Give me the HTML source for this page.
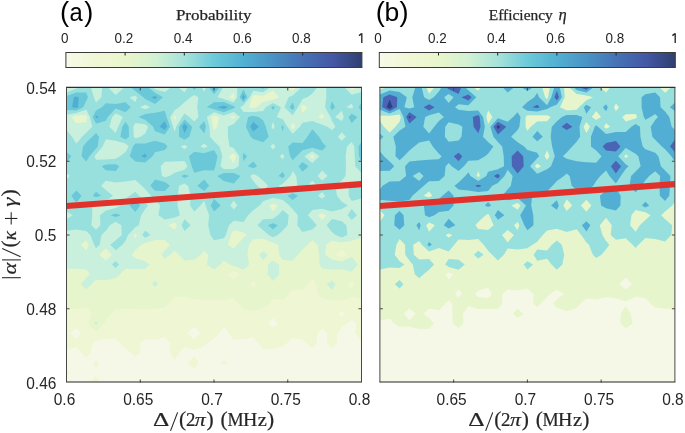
<!DOCTYPE html>
<html><head><meta charset="utf-8"><style>
html,body{margin:0;padding:0;background:#fff;}
body{width:685px;height:433px;overflow:hidden;}
svg{display:block;will-change:transform;}
.tl{font-family:"Liberation Sans",sans-serif;font-size:16.6px;fill:#262626;}
.cb{font-family:"Liberation Sans",sans-serif;font-size:14.5px;fill:#262626;}
.pl{font-family:"Liberation Sans",sans-serif;font-size:27.5px;fill:#000;}
.ti{font-family:"Liberation Serif",serif;font-size:15.5px;fill:#262626;stroke:#262626;stroke-width:0.25px;}
.mr{font-family:"Liberation Serif",serif;font-size:19.5px;fill:#262626;stroke:#262626;stroke-width:0.2px;}
.mi{font-family:"Liberation Serif",serif;font-style:italic;font-size:19.5px;fill:#262626;stroke:#262626;stroke-width:0.2px;}
</style></head><body>
<svg width="685" height="433" viewBox="0 0 685 433">
<defs>
<linearGradient id="cg" x1="0" x2="1" y1="0" y2="0"><stop offset="0.00" stop-color="#f7fae8"/><stop offset="0.10" stop-color="#f0f7d6"/><stop offset="0.20" stop-color="#e9f6cb"/><stop offset="0.30" stop-color="#d2f1d3"/><stop offset="0.40" stop-color="#a6e3da"/><stop offset="0.50" stop-color="#6ccad9"/><stop offset="0.60" stop-color="#52b0d3"/><stop offset="0.70" stop-color="#4a93c6"/><stop offset="0.80" stop-color="#4673b5"/><stop offset="0.90" stop-color="#4458a6"/><stop offset="1.00" stop-color="#303f70"/></linearGradient>
<clipPath id="ca"><rect x="66.50" y="87.50" width="295.00" height="294.6"/></clipPath>
<clipPath id="cbp"><rect x="379.90" y="87.50" width="295.00" height="294.6"/></clipPath>
</defs>
<rect width="685" height="433" fill="#fff"/>
<g clip-path="url(#ca)"><rect x="66.50" y="87.50" width="295.00" height="295.00" fill="#f5f8e6"/>
<path fill="#eef6d3" fill-rule="evenodd" d="M76.3 87.5L86.2 87.5L96.0 87.5L105.8 87.5L115.7 87.5L125.5 87.5L135.3 87.5L145.2 87.5L155.0 87.5L164.8 87.5L174.7 87.5L184.5 87.5L194.3 87.5L204.2 87.5L214.0 87.5L223.8 87.5L233.7 87.5L243.5 87.5L253.3 87.5L263.2 87.5L273.0 87.5L282.8 87.5L292.7 87.5L302.5 87.5L312.3 87.5L322.2 87.5L332.0 87.5L341.8 87.5L351.7 87.5L361.5 87.5L361.5 97.3L361.5 107.2L361.5 117.0L361.5 126.8L361.5 136.7L361.5 146.5L361.5 156.3L361.5 166.2L361.5 176.0L361.5 185.8L361.5 195.7L361.5 205.5L361.5 215.3L361.5 225.2L361.5 235.0L361.5 244.8L361.5 254.7L361.5 264.5L361.5 274.3L361.5 284.2L361.5 294.0L361.5 303.8L361.5 313.7L361.5 323.5L361.5 333.3L361.5 339.7L354.8 333.3L356.6 323.5L351.7 319.9L346.9 323.5L341.8 327.6L337.4 333.3L336.5 343.2L332.0 348.0L327.2 343.2L327.1 333.3L322.2 328.5L317.5 333.3L316.4 343.2L312.3 348.3L306.9 343.2L302.5 339.5L292.7 338.3L286.6 343.2L282.8 346.4L273.0 348.9L263.2 349.1L258.1 343.2L253.3 337.6L243.5 339.1L233.7 339.4L228.8 333.3L223.8 327.0L218.9 333.3L214.0 338.2L207.0 343.2L204.2 346.2L194.3 349.7L184.5 346.8L179.1 353.0L174.7 360.1L170.0 353.0L170.0 343.2L164.8 336.9L155.0 339.5L145.2 339.0L139.7 343.2L140.1 353.0L135.3 356.8L131.5 353.0L125.5 348.5L119.9 343.2L115.7 338.4L105.8 338.7L96.0 340.7L92.6 343.2L90.4 353.0L86.2 357.8L81.4 353.0L76.3 346.9L66.5 349.9L66.5 343.2L66.5 333.3L66.5 323.5L66.5 313.7L66.5 303.8L66.5 294.0L66.5 284.2L66.5 274.3L66.5 264.5L66.5 254.7L66.5 244.8L66.5 235.0L66.5 225.2L66.5 215.3L66.5 205.5L66.5 195.7L66.5 185.8L66.5 176.0L66.5 166.2L66.5 156.3L66.5 146.5L66.5 136.7L66.5 126.8L66.5 117.0L66.5 107.2L66.5 97.3L66.5 87.5ZM338.3 313.7L341.8 317.3L344.4 313.7L341.8 311.2ZM268.4 323.5L273.0 327.7L277.9 323.5L273.0 318.3ZM70.0 333.3L76.3 339.2L81.1 333.3L76.3 327.7ZM187.2 333.3L194.3 339.3L200.6 333.3L194.3 326.6ZM96.0 360.3L98.5 362.8L96.0 367.9L93.0 362.8ZM194.3 355.9L198.7 362.8L194.3 369.0L187.7 362.8ZM223.8 360.3L226.4 362.8L223.8 365.2L221.1 362.8ZM69.5 372.7L66.5 375.8L66.5 372.7L66.5 370.0ZM96.0 375.9L100.0 382.5L96.0 382.5L89.5 382.5Z"/>
<path fill="#e6f5cb" fill-rule="evenodd" d="M76.3 87.5L86.2 87.5L96.0 87.5L105.8 87.5L115.7 87.5L125.5 87.5L135.3 87.5L145.2 87.5L155.0 87.5L164.8 87.5L174.7 87.5L184.5 87.5L194.3 87.5L204.2 87.5L214.0 87.5L223.8 87.5L233.7 87.5L243.5 87.5L253.3 87.5L263.2 87.5L273.0 87.5L282.8 87.5L292.7 87.5L302.5 87.5L312.3 87.5L322.2 87.5L332.0 87.5L341.8 87.5L351.7 87.5L361.5 87.5L361.5 97.3L361.5 107.2L361.5 117.0L361.5 126.8L361.5 136.7L361.5 146.5L361.5 156.3L361.5 166.2L361.5 176.0L361.5 185.8L361.5 195.7L361.5 205.5L361.5 215.3L361.5 225.2L361.5 235.0L361.5 244.8L361.5 254.7L361.5 264.5L361.5 274.3L361.5 284.2L361.5 294.0L361.5 299.1L351.7 296.4L341.8 300.7L332.0 300.1L322.2 298.4L318.0 294.0L316.1 284.2L312.3 278.0L307.8 284.2L302.5 289.7L292.7 289.6L288.6 294.0L282.8 299.9L273.0 298.6L269.3 303.8L263.2 308.0L253.3 310.8L243.5 308.9L238.8 303.8L233.7 297.8L223.8 300.3L214.0 299.7L204.2 299.7L194.3 299.0L184.5 296.5L174.7 297.1L168.6 303.8L164.8 307.6L155.0 308.6L145.2 309.3L135.3 308.9L125.5 308.8L115.7 309.2L111.4 313.7L105.8 320.0L103.9 323.5L96.0 331.6L88.3 323.5L92.0 313.7L86.2 306.7L76.3 309.1L66.5 309.1L66.5 303.8L66.5 294.0L66.5 284.2L66.5 274.3L66.5 264.5L66.5 254.7L66.5 244.8L66.5 235.0L66.5 225.2L66.5 215.3L66.5 205.5L66.5 195.7L66.5 185.8L66.5 176.0L66.5 166.2L66.5 156.3L66.5 146.5L66.5 136.7L66.5 126.8L66.5 117.0L66.5 107.2L66.5 97.3L66.5 87.5ZM335.3 254.7L341.8 257.3L346.3 254.7L341.8 249.3ZM227.2 274.3L233.7 279.4L239.2 274.3L233.7 271.1ZM249.5 284.2L253.3 287.8L257.6 284.2L253.3 281.3ZM346.7 284.2L351.7 289.3L354.4 284.2L351.7 281.6Z"/>
<path fill="#c8f0dc" fill-rule="evenodd" d="M76.3 87.5L86.2 87.5L96.0 87.5L105.8 87.5L114.0 87.5L115.7 89.2L117.6 87.5L125.5 87.5L135.3 87.5L145.2 87.5L155.0 87.5L164.8 87.5L174.7 87.5L184.5 87.5L194.3 87.5L204.2 87.5L214.0 87.5L223.8 87.5L233.7 87.5L243.5 87.5L253.3 87.5L263.2 87.5L273.0 87.5L282.8 87.5L287.0 87.5L292.7 90.9L296.4 87.5L302.5 87.5L312.3 87.5L322.2 87.5L332.0 87.5L341.8 87.5L349.3 87.5L351.7 89.9L356.6 87.5L361.5 87.5L361.5 97.3L361.5 107.2L361.5 117.0L361.5 126.8L361.5 136.7L361.5 146.5L361.5 156.3L361.5 166.2L361.5 176.0L361.5 185.8L361.5 195.7L361.5 205.5L361.5 215.3L361.5 225.2L361.5 235.0L361.5 237.8L351.7 240.8L341.8 242.4L332.0 240.7L326.3 244.8L325.1 254.7L332.0 259.6L341.8 261.4L351.7 257.0L358.0 264.5L351.7 271.4L341.8 269.5L332.0 269.6L322.2 268.6L319.4 264.5L319.2 254.7L317.6 244.8L312.3 240.0L307.5 244.8L302.5 249.8L297.8 254.7L292.7 260.8L282.8 260.1L279.2 254.7L278.2 244.8L273.0 242.7L263.2 238.8L253.3 239.3L249.0 244.8L247.4 254.7L249.1 264.5L243.5 269.7L233.7 265.8L229.9 264.5L223.8 260.7L220.3 264.5L214.0 269.5L206.8 264.5L208.3 254.7L204.2 250.7L200.6 254.7L194.3 259.7L184.5 260.6L178.7 254.7L174.7 250.7L170.1 254.7L164.8 258.8L161.3 254.7L164.8 250.6L170.0 244.8L164.8 240.0L155.0 240.0L145.2 243.0L141.0 244.8L135.3 250.3L131.7 254.7L135.3 258.3L145.2 261.3L149.4 264.5L145.2 269.1L135.3 269.1L125.5 268.7L120.1 274.3L115.7 277.9L105.8 280.2L96.0 279.7L91.5 284.2L86.2 289.5L80.8 284.2L86.2 278.1L89.9 274.3L86.2 269.5L76.3 268.8L66.5 268.8L66.5 264.5L66.5 254.7L66.5 244.8L66.5 235.0L66.5 225.2L66.5 215.3L66.5 205.5L66.5 195.7L66.5 185.8L66.5 176.0L66.5 166.2L66.5 156.3L66.5 146.5L66.5 136.7L66.5 126.8L66.5 117.0L66.5 107.2L66.5 97.3L66.5 89.0L70.2 87.5ZM228.9 97.3L233.7 99.1L234.8 97.3L233.7 93.1ZM252.0 97.3L249.0 107.2L253.3 108.2L256.6 107.2L263.2 101.8L273.0 99.7L279.2 97.3L273.0 90.4L263.2 95.8L253.3 94.9ZM301.0 107.2L302.5 113.2L307.6 107.2L302.5 104.6ZM71.1 117.0L76.3 123.2L86.2 122.1L87.1 117.0L86.2 115.1L76.3 115.5ZM173.6 117.0L174.7 120.8L176.3 117.0L174.7 115.5ZM211.4 117.0L213.0 126.8L214.0 130.4L217.0 126.8L219.2 117.0L214.0 115.3ZM229.7 117.0L233.7 118.8L235.3 117.0L233.7 115.7ZM318.1 117.0L322.2 118.9L324.2 117.0L322.2 112.9ZM290.8 126.8L292.7 129.3L295.3 126.8L292.7 122.5ZM228.9 156.3L233.7 163.4L236.0 156.3L233.7 153.0ZM309.6 156.3L312.3 158.6L314.8 156.3L312.3 154.6ZM269.3 205.5L273.0 211.6L277.8 205.5L273.0 203.4ZM317.9 215.3L322.2 220.3L326.5 215.3L322.2 213.2ZM168.6 225.2L174.7 229.8L177.1 225.2L174.7 222.6ZM133.6 235.0L135.3 238.7L136.9 235.0L135.3 233.2ZM230.9 235.0L227.8 244.8L233.7 248.4L237.1 244.8L243.5 237.4L246.9 235.0L243.5 232.6L233.7 230.2ZM80.7 244.8L86.2 250.4L88.9 244.8L86.2 240.6ZM99.2 254.7L105.8 260.7L111.9 254.7L105.8 248.6ZM263.2 250.9L267.9 254.7L263.2 260.3L259.0 254.7ZM273.0 260.5L278.7 264.5L279.3 274.3L273.0 280.9L267.7 274.3L268.1 264.5ZM155.0 280.4L158.3 284.2L155.0 286.8L151.8 284.2ZM332.0 280.2L335.6 284.2L332.0 290.0L326.8 284.2ZM96.0 320.7L97.5 323.5L96.0 325.0L94.6 323.5Z"/>
<path fill="#98e0dd" fill-rule="evenodd" d="M76.3 88.6L79.3 87.5L86.2 87.5L91.1 87.5L93.8 97.3L96.0 102.5L101.3 97.3L102.2 87.5L105.8 87.5L108.1 87.5L115.7 94.9L124.1 87.5L125.5 87.5L135.3 87.5L145.2 87.5L152.7 87.5L155.0 89.3L164.8 92.0L170.9 87.5L174.7 87.5L178.3 87.5L184.5 92.2L187.5 87.5L194.3 87.5L201.7 87.5L204.2 91.8L205.8 87.5L214.0 87.5L223.0 87.5L217.6 97.3L223.8 98.9L233.7 102.6L237.2 97.3L237.3 87.5L243.5 87.5L253.3 87.5L263.2 87.5L269.7 87.5L263.2 92.2L253.3 90.7L249.7 97.3L243.5 105.2L240.2 107.2L243.5 111.9L253.3 112.0L263.2 111.0L265.7 107.2L273.0 102.9L281.1 107.2L276.8 117.0L282.8 119.2L287.3 126.8L292.7 133.8L300.0 126.8L302.5 122.7L312.3 121.1L322.2 124.7L327.3 126.8L332.0 129.9L335.5 126.8L332.0 121.0L330.6 117.0L325.0 107.2L326.3 97.3L326.2 87.5L332.0 87.5L341.8 87.5L344.6 87.5L351.7 94.7L361.5 92.1L361.5 97.3L361.5 107.2L361.5 117.0L361.5 126.8L361.5 136.7L361.5 146.5L361.5 156.3L361.5 166.2L361.5 172.9L355.2 166.2L354.7 156.3L354.2 146.5L351.7 142.1L347.0 146.5L345.6 156.3L346.0 166.2L345.5 176.0L341.8 180.6L335.3 185.8L337.0 195.7L341.8 201.8L347.9 205.5L341.8 209.0L332.0 211.4L322.2 208.8L312.3 210.0L307.8 215.3L312.3 219.9L316.8 225.2L312.3 229.4L302.5 232.0L297.3 225.2L297.9 215.3L292.7 209.2L289.3 205.5L282.8 200.1L273.0 197.8L263.2 201.2L259.6 205.5L253.3 210.3L248.1 215.3L243.5 221.9L233.7 220.7L229.0 225.2L225.8 235.0L223.8 238.3L214.0 240.2L210.4 235.0L208.2 225.2L209.1 215.3L205.6 205.5L204.2 200.8L200.5 205.5L194.3 211.5L190.1 205.5L190.7 195.7L188.0 185.8L184.5 183.6L179.0 185.8L177.9 195.7L177.5 205.5L179.9 215.3L174.7 217.6L164.8 219.4L158.4 215.3L160.1 205.5L155.0 199.3L151.2 195.7L145.2 189.2L141.8 185.8L135.3 179.9L125.5 181.4L115.7 182.6L105.8 180.7L101.2 185.8L105.8 190.0L113.0 195.7L105.8 201.0L96.0 203.9L92.0 205.5L92.3 215.3L91.3 225.2L96.0 229.8L100.4 225.2L100.0 215.3L105.8 210.4L115.7 208.1L120.6 205.5L125.5 199.1L129.7 195.7L135.3 191.8L139.2 195.7L145.2 202.5L148.0 205.5L145.2 209.1L141.2 215.3L138.7 225.2L135.3 227.2L128.0 235.0L125.5 240.7L122.4 244.8L115.7 250.3L110.2 244.8L115.7 240.2L121.9 235.0L121.3 225.2L115.7 221.7L109.9 225.2L105.8 230.9L101.4 235.0L99.7 244.8L96.0 248.2L94.2 244.8L90.3 235.0L86.2 230.9L76.3 229.5L66.5 230.7L66.5 225.2L66.5 219.3L72.8 215.3L66.5 211.5L66.5 205.5L66.5 195.7L66.5 185.8L66.5 179.7L69.9 176.0L66.5 172.9L66.5 166.2L66.5 156.3L66.5 146.5L66.5 136.7L66.5 130.1L72.0 136.7L76.3 143.7L82.0 136.7L86.2 132.7L92.2 126.8L89.9 117.0L86.2 109.7L76.3 113.0L66.5 114.8L66.5 107.2L66.5 97.3L66.5 92.5ZM129.6 97.3L135.3 102.1L137.2 97.3L135.3 95.8ZM190.6 97.3L184.5 102.2L179.1 107.2L174.7 110.3L170.1 117.0L173.1 126.8L174.7 131.7L176.2 126.8L182.1 117.0L184.5 113.4L189.2 117.0L194.3 121.6L198.5 117.0L197.2 107.2L198.3 97.3L194.3 95.1ZM139.8 107.2L145.2 109.2L150.2 107.2L145.2 104.8ZM346.3 107.2L351.7 108.6L353.3 107.2L351.7 103.8ZM112.2 117.0L109.3 126.8L115.7 133.1L118.1 126.8L122.8 117.0L115.7 113.3ZM206.9 117.0L209.5 126.8L210.0 136.7L214.0 141.3L219.6 146.5L222.4 156.3L220.4 166.2L223.8 169.0L233.7 169.1L238.6 166.2L239.3 156.3L233.7 148.1L229.5 146.5L228.0 136.7L227.8 126.8L233.7 124.0L240.1 117.0L233.7 112.0L223.8 115.4L214.0 112.3ZM335.4 117.0L341.8 121.1L343.8 117.0L341.8 110.7ZM133.3 126.8L133.8 136.7L135.3 138.3L140.5 136.7L145.2 133.5L148.1 126.8L145.2 124.2L135.3 123.1ZM271.5 126.8L273.0 129.7L274.7 126.8L273.0 121.5ZM337.8 136.7L341.8 140.8L345.8 136.7L341.8 132.3ZM102.6 146.5L96.0 154.6L94.5 156.3L96.0 159.8L105.8 159.6L115.7 158.8L120.0 156.3L125.5 152.1L128.7 146.5L125.5 143.5L115.7 140.8L105.8 139.3ZM180.6 146.5L184.5 149.2L187.7 146.5L184.5 145.1ZM200.4 146.5L204.2 148.1L207.7 146.5L204.2 143.5ZM270.4 146.5L273.0 149.6L275.5 146.5L273.0 143.8ZM279.7 156.3L282.8 159.3L284.3 156.3L282.8 153.7ZM304.4 156.3L312.3 163.0L319.4 156.3L312.3 151.2ZM160.7 166.2L161.9 176.0L164.8 177.3L169.6 176.0L174.7 172.8L184.5 169.7L187.5 166.2L184.5 161.0L174.7 161.5L164.8 161.8ZM250.1 176.0L253.3 181.1L257.4 185.8L263.2 190.5L268.0 185.8L263.2 180.8L257.6 176.0L253.3 174.0ZM290.6 176.0L282.8 183.7L278.6 185.8L282.8 189.9L292.7 188.8L297.4 185.8L296.2 176.0L292.7 170.9ZM317.6 176.0L322.2 180.4L327.6 176.0L322.2 170.6ZM307.7 185.8L312.3 191.7L317.3 185.8L312.3 180.8ZM317.9 195.7L322.2 198.8L325.3 195.7L322.2 192.3ZM230.3 205.5L233.7 209.4L237.3 205.5L233.7 200.4ZM292.7 95.5L301.3 87.5L302.5 87.5L312.3 87.5L317.2 87.5L312.3 93.5L307.3 97.3L302.5 99.0L297.8 107.2L292.7 115.3L284.3 107.2L288.6 97.3ZM351.7 183.5L361.5 180.3L361.5 185.8L361.5 195.7L361.5 198.5L351.7 200.9L348.7 195.7L348.6 185.8ZM282.8 209.9L288.7 215.3L287.6 225.2L282.8 230.5L277.8 235.0L273.0 237.3L268.6 235.0L263.2 230.3L257.4 225.2L263.2 219.2L273.0 218.8L278.0 215.3ZM351.7 208.7L356.9 215.3L351.7 220.0L347.5 215.3ZM184.5 219.1L190.6 225.2L184.5 230.9L181.6 225.2ZM332.0 218.9L341.8 221.2L346.4 225.2L347.3 235.0L341.8 237.5L335.6 235.0L332.0 232.0L326.6 225.2ZM145.2 230.6L150.5 235.0L145.2 237.8L142.3 235.0ZM115.7 260.9L118.9 264.5L115.7 267.9L112.0 264.5Z"/>
<path fill="#6bc8d8" fill-rule="evenodd" d="M76.3 92.5L86.2 92.5L88.0 97.3L86.2 101.1L83.3 107.2L76.3 110.5L66.5 110.0L66.5 107.2L66.5 97.3L66.5 96.1ZM135.3 87.5L145.2 87.5L148.2 87.5L155.0 92.7L163.1 97.3L155.0 104.1L145.2 99.1L143.3 97.3L135.3 90.9L130.7 87.5ZM194.3 87.5L196.7 87.5L194.3 89.9L192.1 87.5ZM214.0 87.5L219.5 87.5L214.0 94.2L209.0 87.5ZM243.5 89.5L247.4 97.3L243.5 102.3L239.5 97.3ZM263.2 87.5L264.8 87.5L263.2 88.7L257.3 87.5ZM105.8 103.2L115.7 104.0L125.5 102.3L130.8 107.2L125.5 112.3L115.7 108.5L107.8 117.0L105.8 120.8L96.0 123.7L92.6 117.0L96.0 110.5L101.8 107.2ZM214.0 102.3L223.8 102.1L233.7 106.1L235.2 107.2L233.7 108.3L223.8 112.2L214.0 109.3L206.7 107.2ZM273.0 106.1L275.0 107.2L273.0 110.0L271.2 107.2ZM292.7 102.3L294.5 107.2L292.7 110.2L289.6 107.2ZM332.0 101.2L335.1 107.2L332.0 110.3L330.2 107.2ZM361.5 101.9L361.5 107.2L361.5 112.0L358.8 107.2ZM145.2 114.1L155.0 112.8L164.8 110.7L166.6 117.0L170.1 126.8L164.8 134.4L155.0 131.3L153.1 126.8L145.2 119.7L138.2 117.0ZM253.3 115.8L258.7 117.0L263.2 120.6L265.8 126.8L268.7 136.7L263.2 142.3L253.3 139.1L250.6 136.7L245.9 126.8L248.1 117.0ZM351.7 113.7L357.3 117.0L351.7 123.3L348.5 117.0ZM125.5 121.8L128.8 126.8L129.0 136.7L125.5 139.6L120.3 136.7L122.3 126.8ZM184.5 119.5L192.2 126.8L189.3 136.7L184.5 139.8L178.9 136.7L179.2 126.8ZM204.2 121.3L206.0 126.8L204.2 133.5L199.1 126.8ZM282.8 125.3L283.7 126.8L282.8 131.2L281.2 126.8ZM96.0 133.1L99.0 136.7L97.7 146.5L96.0 148.6L89.5 156.3L86.2 161.6L81.5 156.3L83.0 146.5L86.2 142.6L92.3 136.7ZM312.3 129.3L319.1 136.7L322.2 142.0L326.1 146.5L322.2 150.5L312.3 147.8L302.5 150.3L296.6 156.3L292.7 160.2L290.1 156.3L288.2 146.5L292.7 142.6L302.5 142.9L307.4 136.7ZM135.3 143.6L145.2 143.5L155.0 140.8L164.8 143.4L167.6 146.5L164.8 150.0L155.0 152.3L152.6 156.3L145.2 162.6L135.3 161.4L129.7 156.3L133.0 146.5ZM361.5 141.8L361.5 146.5L361.5 156.3L361.5 162.5L359.0 156.3L358.5 146.5ZM71.3 156.3L66.5 163.0L66.5 156.3L66.5 151.7ZM194.3 151.8L204.2 153.2L214.0 150.1L217.5 156.3L215.4 166.2L214.0 170.5L204.2 170.2L194.3 172.7L191.7 166.2L188.9 156.3ZM243.5 153.0L247.1 156.3L243.5 160.9L242.7 156.3ZM105.8 164.5L115.7 164.2L119.4 166.2L115.7 171.1L105.8 170.2L101.7 166.2ZM253.3 161.5L257.1 166.2L253.3 168.3L247.7 166.2ZM302.5 162.0L308.6 166.2L302.5 171.7L298.5 166.2ZM184.5 174.5L189.3 176.0L184.5 177.9L181.4 176.0ZM223.8 172.9L233.7 173.0L240.6 176.0L233.7 183.5L223.8 181.1L217.2 176.0ZM282.8 171.8L284.7 176.0L282.8 177.9L278.6 176.0ZM155.0 179.5L164.8 182.1L170.0 185.8L164.8 191.0L155.0 190.7L150.3 185.8ZM204.2 179.6L209.2 185.8L204.2 190.9L197.3 185.8ZM76.3 190.5L81.7 195.7L76.3 202.7L71.3 195.7ZM96.0 191.7L101.2 195.7L96.0 197.3L92.8 195.7ZM292.7 193.2L298.0 195.7L292.7 200.1L287.4 195.7ZM135.3 200.3L140.2 205.5L135.3 211.9L129.5 205.5ZM214.0 198.8L220.6 205.5L214.0 211.5L210.7 205.5ZM115.7 213.4L120.9 215.3L115.7 217.1L110.4 215.3ZM273.0 223.2L277.8 225.2L273.0 229.5L267.9 225.2Z"/>
<path fill="#50aed3" fill-rule="evenodd" d="M76.3 96.4L78.8 97.3L78.0 107.2L76.3 107.9L72.1 107.2L73.8 97.3ZM155.0 96.1L157.2 97.3L155.0 99.2L151.6 97.3ZM214.0 87.5L215.9 87.5L214.0 89.8L212.3 87.5ZM243.5 94.1L245.1 97.3L243.5 99.4L241.8 97.3ZM223.8 105.4L228.1 107.2L223.8 108.9L217.3 107.2ZM96.0 115.8L98.9 117.0L96.0 118.3L95.4 117.0ZM164.8 120.9L167.1 126.8L164.8 130.1L159.5 126.8ZM184.5 123.6L187.8 126.8L184.5 133.2L182.2 126.8ZM253.3 121.9L258.9 126.8L253.3 131.6L250.2 126.8ZM145.2 153.5L146.8 156.3L145.2 157.7L141.4 156.3Z"/>
<line x1="66.50" y1="206.0" x2="361.50" y2="184.2" stroke="#e2312a" stroke-width="6.2"/></g>
<g clip-path="url(#cbp)"><rect x="379.90" y="87.50" width="295.00" height="295.00" fill="#f5f8e6"/>
<path fill="#e6f5cb" fill-rule="evenodd" d="M389.7 87.5L399.6 87.5L409.4 87.5L419.2 87.5L429.1 87.5L438.9 87.5L448.7 87.5L458.6 87.5L468.4 87.5L478.2 87.5L488.1 87.5L497.9 87.5L507.7 87.5L517.6 87.5L527.4 87.5L537.2 87.5L547.1 87.5L556.9 87.5L566.7 87.5L576.6 87.5L586.4 87.5L596.2 87.5L606.1 87.5L615.9 87.5L625.7 87.5L635.6 87.5L645.4 87.5L655.2 87.5L665.1 87.5L674.9 87.5L674.9 97.3L674.9 107.2L674.9 117.0L674.9 126.8L674.9 136.7L674.9 146.5L674.9 156.3L674.9 166.2L674.9 176.0L674.9 185.8L674.9 195.7L674.9 205.5L674.9 215.3L674.9 225.2L674.9 235.0L674.9 244.8L674.9 254.7L674.9 264.5L674.9 274.3L674.9 284.2L674.9 294.0L674.9 303.8L674.9 309.0L665.1 308.4L655.2 307.6L650.6 303.8L645.4 298.0L635.6 296.8L625.7 301.4L615.9 298.2L606.1 297.0L596.2 299.4L586.4 298.5L580.3 303.8L576.6 307.9L566.7 311.2L556.9 307.8L553.0 303.8L556.9 299.6L563.9 294.0L556.9 289.7L550.4 294.0L547.1 297.1L540.8 303.8L537.2 307.0L533.1 303.8L533.7 294.0L527.4 288.8L517.6 290.5L507.7 289.2L502.6 294.0L501.9 303.8L497.9 308.7L488.1 309.0L478.2 309.1L468.4 306.3L462.9 313.7L463.4 323.5L458.6 328.1L452.8 323.5L452.4 313.7L452.4 303.8L448.7 300.2L445.1 303.8L438.9 310.2L429.1 308.4L423.5 313.7L429.1 318.1L433.9 323.5L429.1 328.7L419.2 329.1L409.4 326.4L399.6 326.7L394.3 323.5L389.7 318.7L379.9 320.2L379.9 313.7L379.9 303.8L379.9 294.0L379.9 284.2L379.9 274.3L379.9 264.5L379.9 254.7L379.9 244.8L379.9 235.0L379.9 225.2L379.9 215.3L379.9 205.5L379.9 195.7L379.9 185.8L379.9 176.0L379.9 166.2L379.9 156.3L379.9 146.5L379.9 136.7L379.9 126.8L379.9 117.0L379.9 107.2L379.9 97.3L379.9 87.5ZM445.7 274.3L448.7 279.7L453.1 274.3L448.7 272.5ZM619.4 284.2L625.7 289.3L631.9 284.2L625.7 277.2ZM455.0 294.0L458.6 297.6L461.9 294.0L458.6 289.3ZM475.1 294.0L478.2 297.0L488.1 298.2L491.9 294.0L488.1 287.7L478.2 290.6ZM403.9 313.7L409.4 320.3L415.7 313.7L409.4 308.5ZM517.6 308.8L523.5 313.7L517.6 317.9L513.1 313.7ZM625.7 306.3L630.7 313.7L632.8 323.5L625.7 328.2L620.4 323.5L620.8 313.7Z"/>
<path fill="#97e0de" fill-rule="evenodd" d="M389.7 87.5L399.6 87.5L409.4 87.5L419.2 87.5L426.4 87.5L429.1 93.8L434.3 87.5L438.9 87.5L448.7 87.5L458.6 87.5L468.4 87.5L473.7 87.5L478.2 90.7L480.8 87.5L488.1 87.5L497.9 87.5L507.7 87.5L517.6 87.5L527.4 87.5L537.2 87.5L542.3 87.5L545.1 97.3L547.1 99.3L548.1 97.3L549.8 87.5L556.9 87.5L564.1 87.5L564.7 97.3L560.0 107.2L566.7 110.4L576.6 109.8L579.0 107.2L586.4 100.2L593.1 97.3L586.4 95.5L576.6 94.1L569.4 87.5L576.6 87.5L586.4 87.5L596.2 87.5L600.5 87.5L606.1 92.4L609.9 87.5L615.9 87.5L625.7 87.5L635.6 87.5L645.4 87.5L655.2 87.5L659.7 87.5L665.1 92.7L671.1 87.5L674.9 87.5L674.9 97.3L674.9 107.2L674.9 117.0L674.9 126.8L674.9 136.7L674.9 146.5L674.9 156.3L674.9 166.2L674.9 176.0L674.9 185.8L674.9 195.7L674.9 201.9L672.3 205.5L665.1 211.5L661.1 215.3L665.1 219.3L672.2 225.2L671.3 235.0L665.1 241.4L655.2 238.9L645.4 237.9L638.4 244.8L635.6 248.0L632.6 244.8L625.7 238.3L615.9 239.7L610.7 235.0L611.8 225.2L606.1 217.8L599.8 225.2L602.4 235.0L606.1 241.1L609.4 244.8L606.1 249.2L601.5 254.7L596.2 258.0L592.9 254.7L588.9 244.8L586.4 242.6L581.3 235.0L576.6 229.3L566.7 232.1L556.9 228.8L547.1 230.4L542.8 235.0L537.2 241.8L532.5 244.8L527.4 248.3L517.6 249.4L507.7 248.5L503.9 254.7L497.9 260.4L492.1 254.7L488.1 250.7L483.7 244.8L478.2 238.9L468.4 239.9L458.6 239.5L454.2 244.8L448.7 251.5L438.9 247.9L429.1 251.5L421.8 244.8L419.2 241.1L413.2 244.8L413.8 254.7L419.2 259.4L429.1 259.0L434.1 264.5L429.1 269.8L423.6 274.3L419.2 278.3L414.8 274.3L412.8 264.5L409.4 260.5L405.3 254.7L405.0 244.8L399.6 239.1L396.4 244.8L394.7 254.7L399.6 261.3L404.4 264.5L399.6 268.0L389.7 267.6L379.9 269.4L379.9 264.5L379.9 254.7L379.9 244.8L379.9 235.0L379.9 225.2L379.9 221.6L384.5 215.3L379.9 210.0L379.9 205.5L379.9 195.7L379.9 185.8L379.9 176.0L379.9 166.2L379.9 156.3L379.9 146.5L379.9 136.7L379.9 126.8L379.9 120.7L383.8 126.8L389.7 132.5L395.5 126.8L399.6 121.8L400.9 117.0L399.6 114.4L389.7 115.7L379.9 115.4L379.9 107.2L379.9 97.3L379.9 89.5L386.0 87.5ZM613.9 107.2L615.9 111.3L619.1 107.2L615.9 103.5ZM486.3 117.0L488.1 124.0L492.5 117.0L488.1 110.6ZM525.5 117.0L525.6 126.8L527.4 131.0L530.7 126.8L537.2 121.5L547.1 121.2L550.8 117.0L547.1 115.2L537.2 115.2L527.4 115.3ZM591.8 117.0L596.2 120.1L601.1 117.0L596.2 111.1ZM622.2 117.0L625.7 121.5L635.6 118.4L637.2 117.0L635.6 113.9L625.7 114.3ZM583.5 126.8L586.4 133.1L590.0 126.8L586.4 121.9ZM603.9 126.8L606.1 128.7L610.3 126.8L606.1 123.2ZM544.6 156.3L547.1 160.1L549.5 156.3L547.1 150.3ZM624.1 156.3L625.7 158.0L628.5 156.3L625.7 154.6ZM534.9 166.2L537.2 168.6L541.1 166.2L537.2 163.6ZM476.6 176.0L478.2 177.1L480.0 176.0L478.2 171.1ZM423.5 195.7L429.1 197.5L432.3 195.7L429.1 191.5ZM511.5 205.5L517.6 209.7L520.6 205.5L517.6 202.8ZM563.4 205.5L566.7 211.0L572.2 205.5L566.7 199.3ZM580.9 205.5L586.4 211.8L591.3 205.5L586.4 199.8ZM485.6 215.3L478.2 222.1L475.4 225.2L478.2 229.1L488.1 230.1L493.6 225.2L489.3 215.3L488.1 213.8ZM631.5 215.3L630.1 225.2L635.6 231.7L639.9 225.2L645.4 220.1L650.6 215.3L645.4 212.2L635.6 210.0ZM426.2 225.2L429.1 231.7L434.9 225.2L429.1 222.5ZM514.1 225.2L517.6 230.0L519.4 225.2L517.6 222.0ZM445.6 235.0L448.7 237.8L452.4 235.0L448.7 233.5ZM502.1 235.0L507.7 242.4L513.9 235.0L507.7 230.1ZM556.9 240.5L561.8 244.8L564.2 254.7L562.4 264.5L556.9 269.8L551.5 264.5L547.1 258.8L537.2 260.8L533.6 254.7L537.2 249.4L547.1 250.5L551.9 244.8ZM478.2 250.7L483.6 254.7L478.2 258.6L473.9 254.7ZM448.7 259.1L458.6 259.8L464.7 264.5L458.6 269.7L448.7 266.9L445.1 264.5ZM527.4 261.3L533.1 264.5L527.4 269.6L523.6 264.5ZM399.6 280.1L403.4 284.2L399.6 288.4L394.8 284.2Z"/>
<path fill="#52aed2" fill-rule="evenodd" d="M389.7 90.4L399.6 92.0L406.8 97.3L404.4 107.2L409.4 108.6L414.2 107.2L412.3 97.3L415.3 87.5L419.2 87.5L421.7 87.5L424.1 97.3L429.1 100.1L433.7 97.3L438.9 91.4L441.5 87.5L448.7 87.5L458.6 87.5L465.4 87.5L468.4 90.3L476.3 97.3L468.4 105.3L458.6 104.3L455.0 107.2L458.6 109.8L468.4 111.0L478.2 110.4L483.0 117.0L484.8 126.8L483.0 136.7L488.1 142.1L493.4 146.5L488.1 153.7L485.0 156.3L478.2 160.3L468.4 160.8L463.9 166.2L458.6 170.9L451.7 166.2L448.7 163.1L445.6 166.2L444.6 176.0L438.9 181.0L429.1 181.3L423.8 185.8L419.2 189.7L412.4 195.7L409.4 200.0L399.6 201.6L389.7 200.7L379.9 199.8L379.9 195.7L379.9 189.6L382.6 185.8L389.7 181.4L399.6 181.2L406.1 176.0L405.0 166.2L409.4 161.4L419.2 160.6L429.1 159.8L438.9 159.3L441.7 156.3L438.9 153.8L432.8 146.5L429.1 140.4L419.2 142.5L414.2 146.5L409.4 150.5L403.9 156.3L399.6 160.3L395.5 156.3L395.8 146.5L393.3 136.7L399.6 130.6L405.4 126.8L403.5 117.0L399.6 109.1L389.7 113.4L379.9 109.8L379.9 107.2L379.9 97.3L379.9 94.4ZM444.1 97.3L448.7 102.9L453.5 97.3L448.7 94.1ZM425.2 117.0L423.3 126.8L429.1 133.6L434.2 126.8L438.9 120.9L443.9 117.0L438.9 112.5L429.1 115.3ZM445.2 126.8L444.9 136.7L448.7 141.8L458.6 140.5L461.5 136.7L462.4 126.8L458.6 124.4L448.7 122.2ZM412.7 176.0L419.2 181.0L423.6 176.0L419.2 172.0ZM507.7 87.5L513.8 87.5L507.7 92.4L502.9 87.5ZM527.4 87.5L532.7 87.5L527.4 90.9L521.9 87.5ZM537.2 92.7L539.0 97.3L547.1 105.3L551.3 97.3L554.2 87.5L556.9 87.5L559.7 87.5L561.9 97.3L556.9 104.5L550.2 107.2L547.1 109.1L537.2 111.6L527.4 110.7L522.0 107.2L527.4 102.1L534.4 97.3ZM576.6 87.5L586.4 87.5L593.3 87.5L586.4 92.6L576.6 89.9L574.0 87.5ZM645.4 94.3L655.2 92.6L660.0 97.3L660.6 107.2L665.1 111.4L669.3 117.0L671.7 126.8L674.9 129.7L674.9 136.7L674.9 146.5L674.9 156.3L674.9 161.7L671.4 156.3L665.1 149.2L661.9 146.5L655.2 139.7L652.3 136.7L650.7 126.8L655.2 119.9L658.0 117.0L655.2 114.1L650.5 117.0L645.4 119.7L643.8 117.0L641.6 107.2L641.6 97.3ZM586.4 104.7L591.1 107.2L586.4 113.8L583.8 107.2ZM606.1 104.3L607.8 107.2L606.1 111.3L602.9 107.2ZM674.9 102.7L674.9 107.2L674.9 110.9L669.8 107.2ZM517.6 112.2L520.5 117.0L519.4 126.8L517.6 129.9L511.1 136.7L517.6 142.2L524.2 146.5L527.4 150.0L537.2 152.7L539.2 156.3L537.2 158.3L530.0 166.2L537.2 173.7L547.1 169.3L551.0 166.2L554.8 156.3L552.1 146.5L550.7 136.7L551.8 126.8L556.9 121.3L562.0 117.0L566.7 114.9L576.6 115.0L582.4 117.0L579.5 126.8L580.1 136.7L576.6 141.8L572.2 146.5L566.7 152.4L562.8 156.3L566.7 158.8L576.6 161.3L586.4 162.3L596.2 162.7L601.6 156.3L596.2 150.5L591.0 146.5L590.9 136.7L594.8 126.8L596.2 125.3L597.9 126.8L606.1 133.9L615.9 131.9L625.7 131.9L631.4 126.8L635.6 124.0L640.0 126.8L640.4 136.7L642.7 146.5L645.4 149.2L655.2 152.7L658.4 156.3L660.9 166.2L665.1 170.5L670.4 176.0L670.1 185.8L669.2 195.7L665.1 200.9L659.9 195.7L659.4 185.8L660.2 176.0L655.2 171.2L649.1 176.0L645.4 180.2L641.6 185.8L635.6 192.3L629.5 185.8L631.1 176.0L635.6 171.5L640.7 166.2L638.3 156.3L635.6 153.7L625.7 148.1L618.2 156.3L625.7 164.2L628.6 166.2L625.7 169.1L620.8 176.0L615.9 183.5L609.4 176.0L606.1 170.4L600.2 176.0L596.2 181.1L593.3 185.8L586.4 191.3L576.6 189.7L571.7 185.8L569.6 176.0L566.7 173.6L563.9 176.0L556.9 181.1L552.5 185.8L547.1 191.6L537.2 191.8L532.1 195.7L531.2 205.5L533.3 215.3L533.5 225.2L527.4 230.2L524.3 225.2L520.2 215.3L526.0 205.5L517.6 197.9L507.7 200.2L502.3 195.7L507.7 189.3L510.8 185.8L512.7 176.0L507.7 169.8L504.5 176.0L497.9 183.0L492.3 185.8L488.1 191.1L478.2 192.1L468.4 190.4L458.6 189.6L454.4 185.8L458.6 182.6L465.3 176.0L468.4 172.3L470.5 176.0L478.2 180.9L486.3 176.0L488.1 171.7L497.9 169.3L504.0 166.2L503.7 156.3L502.2 146.5L497.9 142.0L493.4 136.7L490.4 126.8L497.9 118.2L507.7 121.7L513.1 117.0ZM383.4 136.7L379.9 140.2L379.9 136.7L379.9 133.4ZM537.2 131.1L542.8 136.7L537.2 141.3L532.5 136.7ZM383.9 156.3L389.7 161.5L394.3 166.2L389.7 170.8L379.9 171.1L379.9 166.2L379.9 156.3L379.9 151.2ZM448.7 190.4L453.6 195.7L453.5 205.5L448.7 210.7L438.9 211.9L434.4 215.3L429.1 217.3L425.0 215.3L423.9 205.5L429.1 203.1L438.9 199.1L442.4 195.7ZM606.1 190.6L615.9 188.3L620.7 195.7L620.4 205.5L615.9 210.6L606.1 208.2L601.1 205.5L599.9 195.7ZM488.1 202.0L491.2 205.5L488.1 207.1L484.8 205.5ZM556.9 200.2L558.8 205.5L556.9 209.7L551.0 205.5ZM645.4 201.7L649.2 205.5L645.4 207.4L641.9 205.5ZM399.6 211.1L403.5 215.3L404.3 225.2L399.6 229.8L394.3 225.2L394.9 215.3ZM497.9 210.1L504.4 215.3L497.9 219.8L494.8 215.3ZM419.2 221.9L420.7 225.2L419.2 230.3L416.4 225.2ZM448.7 218.8L455.4 225.2L448.7 228.5L443.7 225.2ZM586.4 221.2L590.4 225.2L586.4 231.4L581.9 225.2ZM429.1 241.9L431.9 244.8L429.1 246.4L427.4 244.8Z"/>
<path fill="#4a65b5" fill-rule="evenodd" d="M389.7 94.4L397.3 97.3L396.9 107.2L389.7 111.1L382.2 107.2L383.3 97.3ZM448.7 87.5L458.6 87.5L461.1 87.5L458.6 94.1L448.7 89.3L446.7 87.5ZM468.4 94.4L471.7 97.3L468.4 100.6L461.4 97.3ZM556.9 90.8L559.0 97.3L556.9 100.4L554.5 97.3ZM586.4 87.5L589.3 87.5L586.4 89.7L580.3 87.5ZM429.1 104.2L434.6 107.2L429.1 110.6L423.7 107.2ZM537.2 104.8L539.7 107.2L537.2 108.0L532.5 107.2ZM409.4 112.3L416.6 117.0L409.4 123.4L406.1 117.0ZM478.2 114.9L479.7 117.0L480.5 126.8L478.2 133.2L473.6 126.8L472.8 117.0ZM497.9 121.8L506.3 126.8L497.9 134.6L493.5 126.8ZM566.7 122.7L572.4 126.8L566.7 130.1L561.6 126.8ZM606.1 142.9L615.9 140.9L620.5 146.5L615.9 151.6L606.1 150.6L602.6 146.5ZM674.9 139.5L674.9 146.5L674.9 152.0L670.0 146.5ZM458.6 152.8L462.3 156.3L458.6 161.3L453.8 156.3ZM517.6 150.5L523.2 156.3L523.7 166.2L517.6 173.6L511.9 166.2L511.7 156.3ZM615.9 160.8L621.0 166.2L615.9 173.6L610.9 166.2ZM497.9 173.7L500.1 176.0L497.9 178.4L493.8 176.0ZM478.2 184.7L481.8 185.8L478.2 187.3L475.1 185.8Z"/>
<path fill="#2e3f80" fill-rule="evenodd" d="M389.7 99.8L392.7 107.2L389.7 108.8L386.6 107.2ZM409.4 116.0L411.0 117.0L409.4 118.4L408.7 117.0ZM497.9 125.3L500.4 126.8L497.9 129.2L496.6 126.8Z"/>
<line x1="379.90" y1="206.0" x2="674.90" y2="184.2" stroke="#e2312a" stroke-width="6.2"/></g>
<g stroke="#4a4a4a" stroke-width="1" fill="none"><line x1="140.25" y1="382.50" x2="140.25" y2="379.50"/><line x1="140.25" y1="87.50" x2="140.25" y2="90.50"/><line x1="66.50" y1="161.25" x2="69.50" y2="161.25"/><line x1="361.50" y1="161.25" x2="358.50" y2="161.25"/><line x1="214.00" y1="382.50" x2="214.00" y2="379.50"/><line x1="214.00" y1="87.50" x2="214.00" y2="90.50"/><line x1="66.50" y1="235.00" x2="69.50" y2="235.00"/><line x1="361.50" y1="235.00" x2="358.50" y2="235.00"/><line x1="287.75" y1="382.50" x2="287.75" y2="379.50"/><line x1="287.75" y1="87.50" x2="287.75" y2="90.50"/><line x1="66.50" y1="308.75" x2="69.50" y2="308.75"/><line x1="361.50" y1="308.75" x2="358.50" y2="308.75"/></g><line x1="66.00" y1="87.3" x2="362.00" y2="87.3" stroke="#2e2e2e" stroke-width="1.3"/><line x1="66.00" y1="382.00" x2="362.00" y2="382.00" stroke="#262626" stroke-width="1.2"/><line x1="66.50" y1="87.3" x2="66.50" y2="382.00" stroke="#484848" stroke-width="1"/><line x1="361.50" y1="87.3" x2="361.50" y2="382.00" stroke="#484848" stroke-width="1"/>
<g stroke="#4a4a4a" stroke-width="1" fill="none"><line x1="453.65" y1="382.50" x2="453.65" y2="379.50"/><line x1="453.65" y1="87.50" x2="453.65" y2="90.50"/><line x1="379.90" y1="161.25" x2="382.90" y2="161.25"/><line x1="674.90" y1="161.25" x2="671.90" y2="161.25"/><line x1="527.40" y1="382.50" x2="527.40" y2="379.50"/><line x1="527.40" y1="87.50" x2="527.40" y2="90.50"/><line x1="379.90" y1="235.00" x2="382.90" y2="235.00"/><line x1="674.90" y1="235.00" x2="671.90" y2="235.00"/><line x1="601.15" y1="382.50" x2="601.15" y2="379.50"/><line x1="601.15" y1="87.50" x2="601.15" y2="90.50"/><line x1="379.90" y1="308.75" x2="382.90" y2="308.75"/><line x1="674.90" y1="308.75" x2="671.90" y2="308.75"/></g><line x1="379.40" y1="87.3" x2="675.40" y2="87.3" stroke="#2e2e2e" stroke-width="1.3"/><line x1="379.40" y1="382.00" x2="675.40" y2="382.00" stroke="#262626" stroke-width="1.2"/><line x1="379.90" y1="87.3" x2="379.90" y2="382.00" stroke="#484848" stroke-width="1"/><line x1="674.90" y1="87.3" x2="674.90" y2="382.00" stroke="#484848" stroke-width="1"/>
<rect x="65.90" y="52.50" width="296.00" height="15.00" fill="url(#cg)" stroke="#3a3a3a" stroke-width="1"/><line x1="125.10" y1="52.50" x2="125.10" y2="55.50" stroke="#262626" stroke-width="1"/><line x1="184.30" y1="52.50" x2="184.30" y2="55.50" stroke="#262626" stroke-width="1"/><line x1="243.50" y1="52.50" x2="243.50" y2="55.50" stroke="#262626" stroke-width="1"/><line x1="302.70" y1="52.50" x2="302.70" y2="55.50" stroke="#262626" stroke-width="1"/><text transform="translate(64.70,43.3) scale(0.93,1)" text-anchor="middle" class="cb">0</text><text transform="translate(123.90,43.3) scale(0.93,1)" text-anchor="middle" class="cb">0.2</text><text transform="translate(183.10,43.3) scale(0.93,1)" text-anchor="middle" class="cb">0.4</text><text transform="translate(242.30,43.3) scale(0.93,1)" text-anchor="middle" class="cb">0.6</text><text transform="translate(301.50,43.3) scale(0.93,1)" text-anchor="middle" class="cb">0.8</text><path d="M361.80 33.3 L361.80 43.0 M361.60 33.6 L359.00 35.6" stroke="#262626" stroke-width="1.35" fill="none"/>
<rect x="379.30" y="52.50" width="296.00" height="15.00" fill="url(#cg)" stroke="#3a3a3a" stroke-width="1"/><line x1="438.50" y1="52.50" x2="438.50" y2="55.50" stroke="#262626" stroke-width="1"/><line x1="497.70" y1="52.50" x2="497.70" y2="55.50" stroke="#262626" stroke-width="1"/><line x1="556.90" y1="52.50" x2="556.90" y2="55.50" stroke="#262626" stroke-width="1"/><line x1="616.10" y1="52.50" x2="616.10" y2="55.50" stroke="#262626" stroke-width="1"/><text transform="translate(378.10,43.3) scale(0.93,1)" text-anchor="middle" class="cb">0</text><text transform="translate(437.30,43.3) scale(0.93,1)" text-anchor="middle" class="cb">0.2</text><text transform="translate(496.50,43.3) scale(0.93,1)" text-anchor="middle" class="cb">0.4</text><text transform="translate(555.70,43.3) scale(0.93,1)" text-anchor="middle" class="cb">0.6</text><text transform="translate(614.90,43.3) scale(0.93,1)" text-anchor="middle" class="cb">0.8</text><path d="M675.20 33.3 L675.20 43.0 M675.00 33.6 L672.40 35.6" stroke="#262626" stroke-width="1.35" fill="none"/>
<text transform="translate(59.99,20.60) scale(1.000,1)" class="pl" style="font-size:27.3px">(</text><text transform="translate(69.59,20.60) scale(0.930,1)" class="pl" style="font-size:25.5px">a</text><text transform="translate(84.15,20.60) scale(1.000,1)" class="pl" style="font-size:27.3px">)</text><text transform="translate(375.64,20.60) scale(1.000,1)" class="pl" style="font-size:27.3px">(</text><text transform="translate(384.56,20.60) scale(1.040,1)" class="pl" style="font-size:25.5px">b</text><text transform="translate(399.40,20.60) scale(1.000,1)" class="pl" style="font-size:27.3px">)</text>
<text x="175.9" y="20.4" class="ti" textLength="75.6" lengthAdjust="spacingAndGlyphs">Probability</text>
<text x="488.8" y="20.4" class="ti" textLength="64" lengthAdjust="spacingAndGlyphs">Efficiency</text>
<text x="558.4" y="20.4" class="ti" style="font-style:italic;font-size:16.5px">&#951;</text>
<text transform="translate(56.4,93.70) scale(0.934,1)" text-anchor="end" class="tl">0.54</text><text transform="translate(56.4,167.45) scale(0.934,1)" text-anchor="end" class="tl">0.52</text><text transform="translate(56.4,241.20) scale(0.934,1)" text-anchor="end" class="tl">0.5</text><text transform="translate(56.4,314.95) scale(0.934,1)" text-anchor="end" class="tl">0.48</text><text transform="translate(56.4,388.70) scale(0.934,1)" text-anchor="end" class="tl">0.46</text>
<text transform="translate(64.50,405.3) scale(0.934,1)" text-anchor="middle" class="tl">0.6</text><text transform="translate(138.25,405.3) scale(0.934,1)" text-anchor="middle" class="tl">0.65</text><text transform="translate(212.00,405.3) scale(0.934,1)" text-anchor="middle" class="tl">0.7</text><text transform="translate(285.75,405.3) scale(0.934,1)" text-anchor="middle" class="tl">0.75</text><text transform="translate(359.50,405.3) scale(0.934,1)" text-anchor="middle" class="tl">0.8</text><text transform="translate(451.65,405.3) scale(0.934,1)" text-anchor="middle" class="tl">0.65</text><text transform="translate(525.40,405.3) scale(0.934,1)" text-anchor="middle" class="tl">0.7</text><text transform="translate(599.15,405.3) scale(0.934,1)" text-anchor="middle" class="tl">0.75</text><text transform="translate(672.90,405.3) scale(0.934,1)" text-anchor="middle" class="tl">0.8</text>
<text transform="translate(153.12,426.30) scale(1.300,1)" class="mr" style="font-size:19.5px">&#916;</text><line x1="177.60" y1="412.4" x2="170.50" y2="430.9" stroke="#262626" stroke-width="1.1"/><text transform="translate(179.09,426.30) scale(1.050,1)" class="mr" style="font-size:20.5px">(</text><text transform="translate(185.97,426.30) scale(0.970,1)" class="mr" style="font-size:19.5px">2</text><text transform="translate(194.81,426.30) scale(1.120,1)" class="mi" style="font-size:19.5px">&#960;</text><text transform="translate(206.61,426.30) scale(1.050,1)" class="mr" style="font-size:20.5px">)</text><text transform="translate(220.59,426.30) scale(1.050,1)" class="mr" style="font-size:20.5px">(</text><text transform="translate(227.38,426.30) scale(0.930,1)" class="mr" style="font-size:19.5px">M</text><text transform="translate(242.94,426.30) scale(1.020,1)" class="mr" style="font-size:19.5px">H</text><text transform="translate(257.75,426.30) scale(1.050,1)" class="mr" style="font-size:19.5px">z</text><text transform="translate(267.11,426.30) scale(1.050,1)" class="mr" style="font-size:20.5px">)</text>
<text transform="translate(468.27,426.30) scale(1.300,1)" class="mr" style="font-size:19.5px">&#916;</text><line x1="492.75" y1="412.4" x2="485.65" y2="430.9" stroke="#262626" stroke-width="1.1"/><text transform="translate(494.24,426.30) scale(1.050,1)" class="mr" style="font-size:20.5px">(</text><text transform="translate(501.12,426.30) scale(0.970,1)" class="mr" style="font-size:19.5px">2</text><text transform="translate(509.96,426.30) scale(1.120,1)" class="mi" style="font-size:19.5px">&#960;</text><text transform="translate(521.76,426.30) scale(1.050,1)" class="mr" style="font-size:20.5px">)</text><text transform="translate(535.74,426.30) scale(1.050,1)" class="mr" style="font-size:20.5px">(</text><text transform="translate(542.53,426.30) scale(0.930,1)" class="mr" style="font-size:19.5px">M</text><text transform="translate(558.09,426.30) scale(1.020,1)" class="mr" style="font-size:19.5px">H</text><text transform="translate(572.90,426.30) scale(1.050,1)" class="mr" style="font-size:19.5px">z</text><text transform="translate(582.26,426.30) scale(1.050,1)" class="mr" style="font-size:20.5px">)</text>
<g transform="translate(16.2,0) rotate(-90)"><text transform="translate(-196.54,0.00) scale(1.050,1)" class="mr" style="font-size:20.5px">)</text><text transform="translate(-206.79,0.00) scale(1.200,1)" class="mi" style="font-size:19.5px">&#947;</text><text x="-240.32" y="0.00" class="mi" style="font-size:19.5px">&#954;</text><text transform="translate(-247.51,0.00) scale(1.050,1)" class="mr" style="font-size:20.5px">(</text><text transform="translate(-274.49,0.00) scale(1.150,1)" class="mi" style="font-size:19.5px">&#945;</text></g><g stroke="#262626" stroke-width="1.05"><line x1="2.0" y1="259.9" x2="20.8" y2="259.9"/><line x1="2.0" y1="277.7" x2="20.8" y2="277.7"/><line x1="2.2" y1="248.6" x2="20.6" y2="256.7"/><line x1="11.2" y1="212.3" x2="11.2" y2="224.6"/><line x1="5.0" y1="218.45" x2="17.4" y2="218.45"/></g>
</svg>
</body></html>
